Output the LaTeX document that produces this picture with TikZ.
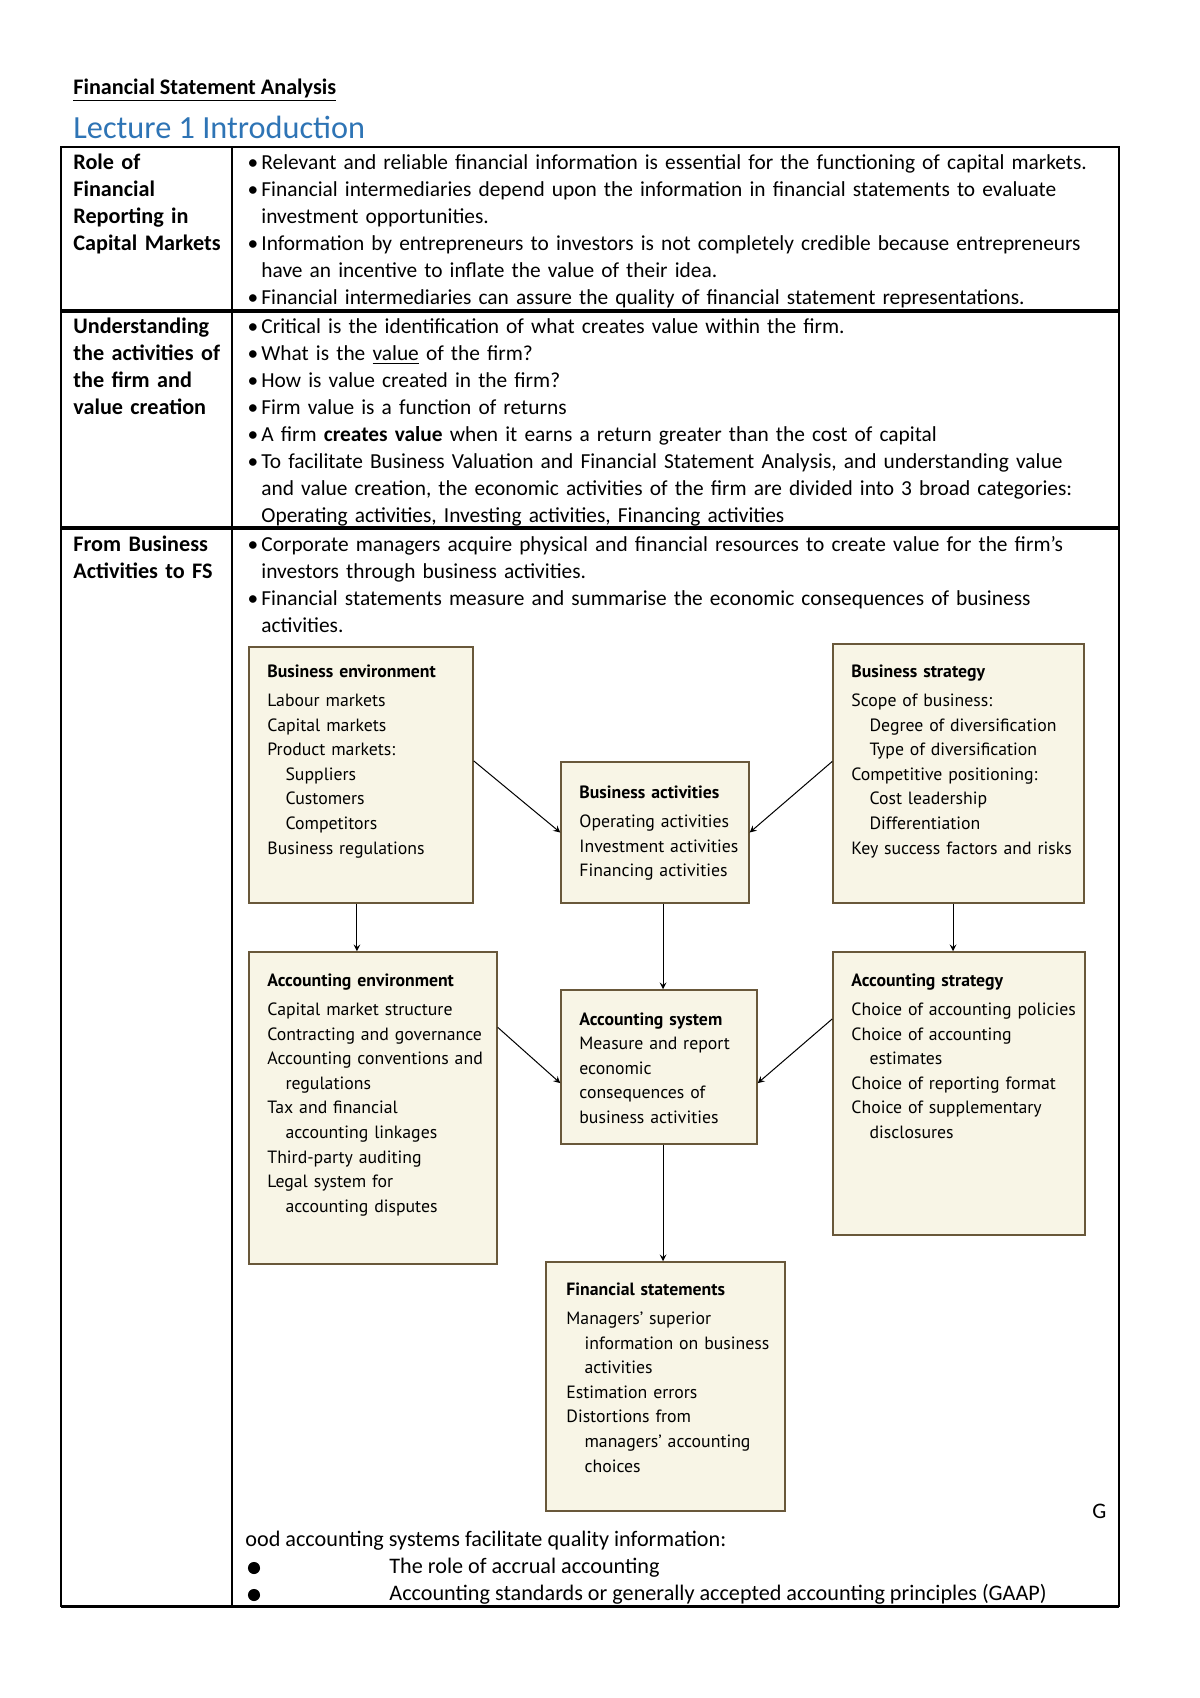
\documentclass[tikz,border=0pt]{standalone}
\usepackage{fontspec}
\setmainfont{Carlito}
\newfontfamily\boxfont{PT Sans}
\usepackage{xcolor}
\usetikzlibrary{positioning,calc,arrows,fit}
\definecolor{headingblue}{RGB}{46,116,181}
\definecolor{boxcream}{RGB}{248,245,230}
\definecolor{boxedge}{RGB}{105,88,58}

\newcommand{\itm}{\makebox[0pt][r]{\textbullet\hspace{1.5pt}}}
\newcommand{\ind}{\hspace*{9pt}}

\begin{document}
\begin{tikzpicture}[x=0.4958pt,y=-0.4958pt,
    cell/.style={anchor=base west,inner sep=0pt,align=left,text width=440pt,font=\fontsize{10.6}{13.43}\selectfont},
    rowhead/.style={cell,text width=78pt,font=\fontsize{11}{13.43}\selectfont\bfseries},
    plain/.style={anchor=base west,inner sep=0pt,font=\fontsize{11}{13.43}\selectfont},
    box/.style={draw=boxedge,fill=boxcream,line width=0.7pt,inner sep=0pt},
    boxtext/.style={anchor=base west,inner sep=0pt,align=left,text width=135pt,font=\boxfont\fontsize{8.8}{12.2}\selectfont},
    dot/.style={circle,fill=black,inner sep=0pt,minimum size=6pt},
    flow/.style={->,>=stealth,line width=0.5pt},
    rule/.style={line width=1pt},
    heavyrule/.style={line width=1.5pt}]

\useasboundingbox (0,0) rectangle (1200,1698);

% page heading
\node[plain,font=\fontsize{11}{13}\selectfont\bfseries] (doctitle) at (73,94) {\underline{Financial Statement Analysis}};
\node[plain,font=\fontsize{16}{19}\selectfont,text=headingblue] (lecture) at (73,138) {Lecture 1 Introduction};

% table rules
\draw[rule] (61,147) rectangle (1119,1606);
\draw[rule] (232,147) -- (232,1606);
\draw[heavyrule] (61,311) -- (1119,311);
\draw[heavyrule] (61,528) -- (1119,528);
\draw[heavyrule] (61,1606) -- (1119,1606);

% row 1
\node[rowhead] (headrole) at (73,169) {Role of\\Financial\\Reporting in\\Capital Markets};
\node[cell] (cellrole) at (261,169) {\itm Relevant and reliable financial information is essential for the functioning of capital markets.\\
\itm Financial intermediaries depend upon the information in financial statements to evaluate\\
investment opportunities.\\
\itm Information by entrepreneurs to investors is not completely credible because entrepreneurs\\
have an incentive to inflate the value of their idea.\\
\itm Financial intermediaries can assure the quality of financial statement representations.};

% row 2
\node[rowhead] (headvalue) at (73,333) {Understanding\\the activities of\\the firm and\\value creation};
\node[cell] (cellvalue) at (261,333) {\itm Critical is the identification of what creates value within the firm.\\
\itm What is the \underline{value} of the firm?\\
\itm How is value created in the firm?\\
\itm Firm value is a function of returns\\
\itm A firm \textbf{creates value} when it earns a return greater than the cost of capital\\
\itm To facilitate Business Valuation and Financial Statement Analysis, and understanding value\\
and value creation, the economic activities of the firm are divided into 3 broad categories:\\
Operating activities, Investing activities, Financing activities};

% row 3
\node[rowhead] (headfs) at (73,551) {From Business\\Activities to FS};
\node[cell] (cellfs) at (261,551) {\itm Corporate managers acquire physical and financial resources to create value for the firm’s\\
investors through business activities.\\
\itm Financial statements measure and summarise the economic consequences of business\\
activities.};

% diagram boxes
\node[box,fit={(249,647) (473,903)}] (benv) {};
\node[box,fit={(561,762) (749,903)}] (bact) {};
\node[box,fit={(833,644) (1084,903)}] (bstr) {};
\node[box,fit={(249,952) (497,1264)}] (aenv) {};
\node[box,fit={(561,990) (757,1144)}] (asys) {};
\node[box,fit={(833,952) (1085,1235)}] (astr) {};
\node[box,fit={(546,1262) (785,1511)}] (fsta) {};

\node[boxtext] (benvtxt) at (267,677) {\textbf{Business environment}\\[2.4pt]
Labour markets\\Capital markets\\Product markets:\\\ind Suppliers\\\ind Customers\\\ind Competitors\\Business regulations};
\node[boxtext] (bacttxt) at (579,798) {\textbf{Business activities}\\[2.4pt]
Operating activities\\Investment activities\\Financing activities};
\node[boxtext] (bstrtxt) at (851,677) {\textbf{Business strategy}\\[2.4pt]
Scope of business:\\\ind Degree of diversification\\\ind Type of diversification\\Competitive positioning:\\\ind Cost leadership\\\ind Differentiation\\Key success factors and risks};
\node[boxtext] (aenvtxt) at (267,986) {\textbf{Accounting environment}\\[2.4pt]
Capital market structure\\Contracting and governance\\Accounting conventions and\\\ind regulations\\Tax and financial\\\ind accounting linkages\\Third-party auditing\\Legal system for\\\ind accounting disputes};
\node[boxtext] (asystxt) at (579,1025) {\textbf{Accounting system}\\
Measure and report\\economic\\consequences of\\business activities};
\node[boxtext] (astrtxt) at (851,986) {\textbf{Accounting strategy}\\[2.4pt]
Choice of accounting policies\\Choice of accounting\\\ind estimates\\Choice of reporting format\\Choice of supplementary\\\ind disclosures};
\node[boxtext] (fstatxt) at (566,1295) {\textbf{Financial statements}\\[2.4pt]
Managers’ superior\\\ind information on business\\\ind activities\\Estimation errors\\Distortions from\\\ind managers’ accounting\\\ind choices};

% connectors
\draw[flow] ([yshift=7pt]benv.east) -- (bact.west);
\draw[flow] ([yshift=6pt]bstr.west) -- (bact.east);
\draw[flow] ([xshift=-2pt]benv.south) -- ([xshift=-2pt]benv.south |- aenv.north);
\draw[flow] ([xshift=4pt]bact.south) -- ([xshift=4pt]bact.south |- asys.north);
\draw[flow] ([xshift=-2.7pt]bstr.south) -- ([xshift=-2.7pt]bstr.south |- astr.north);
\draw[flow] ([yshift=40pt]aenv.east) -- ([yshift=-8pt]asys.west);
\draw[flow] ([yshift=37pt]astr.west) -- ([yshift=-8pt]asys.east);
\draw[flow] ([xshift=2pt]asys.south) -- ([xshift=2pt]asys.south |- fsta.north);

% text below the diagram
\node[plain] (noteg) at (1092,1518) {G};
\node[plain] (goodacc) at (245,1546) {ood accounting systems facilitate quality information:};
\node[dot] (dotone) at (254,1568) {};
\node[plain] (accrual) at (389,1573) {The role of accrual accounting};
\node[dot] (dottwo) at (254,1595) {};
\node[plain] (gaap) at (389,1600) {Accounting standards or generally accepted accounting principles (GAAP)};
\end{tikzpicture}
\end{document}
